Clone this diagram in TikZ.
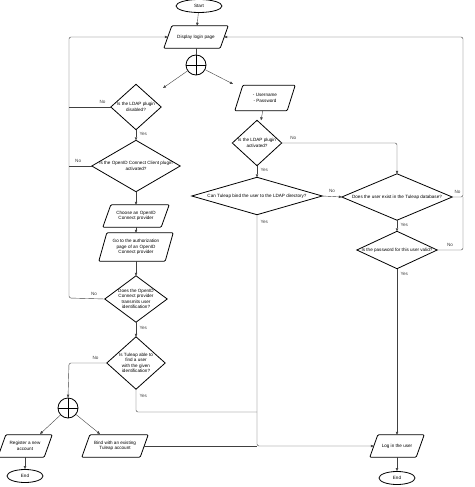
\documentclass[tikz,border=0pt]{standalone}
\usepackage{fontspec}
\setmainfont{Liberation Sans}
\usetikzlibrary{shapes.geometric,arrows.meta}
\newcommand{\mydia}[1]{\draw[thick] (#1.north)--(#1.east)--(#1.south)--(#1.west)--cycle;}
\newcommand{\mypara}[1]{\draw[thick,rounded corners=1pt] ([xshift=4pt]#1.north west)--([xshift=4pt]#1.north east)--([xshift=-4pt]#1.south east)--([xshift=-4pt]#1.south west)--cycle;}
\begin{document}
\begin{tikzpicture}[x=1pt,y=-1pt,
  every node/.style={font=\fontsize{4.6}{5.4}\selectfont},
  box/.style 2 args={rectangle,inner sep=0pt,minimum width=#1,minimum height=#2,align=center},
  term/.style={draw,thick,ellipse,inner sep=0pt,minimum width=#1,minimum height=13pt},
  plus/.style={draw,thick,circle,minimum size=20pt,inner sep=0pt,path picture={\draw (path picture bounding box.north)--(path picture bounding box.south) (path picture bounding box.west)--(path picture bounding box.east);}},
  arr/.style={-{Triangle[length=3pt,width=2.5pt]},gray!50!black},
  ln/.style={gray!50!black,rounded corners=2pt},
  lab/.style={font=\fontsize{4.6}{5.4}\selectfont}]
\useasboundingbox (0,0) rectangle (474,487);
\node[term=46pt] (start) at (199,6) {Start};
\node[box={56pt}{22pt}] (disp) at (196,37) {Display login page};
\node[plus] (p1) at (196,65) {};
\node[box={50pt}{45pt}] (ldapdis) at (136,107) {Is the LDAP plugin\\disabled?};
\node[box={88pt}{51pt}] (oidact) at (136,166) {Is the OpenID Connect Client plugin\\activated?};
\node[box={58pt}{22pt}] (choose) at (136,216) {Choose an OpenID\\Connect provider};
\node[box={66pt}{28pt}] (goto) at (136,247) {Go to the authorization\\page of an OpenID\\Connect provider};
\node[box={62pt}{46pt}] (trans) at (136,299) {Does the OpenID\\Connect provider\\transmits user\\identification?};
\node[box={58pt}{52pt}] (able) at (136,363) {Is Tuleap able to\\find a user\\with the given\\identification?};
\node[plus] (p2) at (68,408) {};
\node[box={46pt}{22pt}] (reg) at (25,446) {Register a new\\account};
\node[term=36pt] (end1) at (25,476) {End};
\node[box={58pt}{22pt}] (bind) at (115,446) {Bind with an existing\\Tuleap account};
\node[box={52pt}{25pt}] (cred) at (265,98) {- Username\\- Password};
\node[box={49pt}{45pt}] (ldapact) at (257,143) {Is the LDAP plugin\\activated?};
\node[box={130pt}{37pt}] (canbind) at (257,196) {Can Tuleap bind the user to the LDAP directory?};
\node[box={110pt}{46pt}] (exist) at (397,197) {Does the user exist in the Tuleap database?};
\node[box={80pt}{37pt}] (pwd) at (397,250) {Is the password for this user valid?};
\node[box={46pt}{22pt}] (login) at (397,446) {Log in the user};
\node[term=36pt] (end2) at (397,478) {End};
\mypara{disp}\mypara{choose}\mypara{goto}\mypara{reg}\mypara{bind}\mypara{cred}\mypara{login}
\mydia{ldapdis}\mydia{oidact}\mydia{trans}\mydia{able}\mydia{ldapact}\mydia{canbind}\mydia{exist}\mydia{pwd}
\coordinate (a1) at (163,88);
\coordinate (a2) at (233,84);
\coordinate (b1) at (40,434);
\coordinate (b2) at (100,434);
\draw[arr] (start) -- (disp);
\draw[ln] (disp) -- (p1);
\draw[arr] (p1) -- (a1);
\draw[arr] (p1) -- (a2);
\draw[arr] (ldapdis) -- node[right,lab,pos=0.4]{Yes} (oidact);
\draw[arr] (oidact) -- (choose);
\draw[arr] (choose) -- (goto);
\draw[arr] (goto) -- (trans);
\draw[arr] (trans) -- node[right,lab,pos=0.4]{Yes} (able);
\draw[ln] (ldapdis.west) -- node[above,lab,pos=0.2]{No} (69,107);
\draw[ln] (oidact.west) -- node[above,lab,pos=0.6]{No} (69,166);
\draw[arr,rounded corners=2pt] (trans.west) -- node[above,lab,pos=0.3]{No} (69,298) -- (69,37) -- (disp.west);
\draw[arr,rounded corners=2pt] (able.west) -- node[above,lab,pos=0.3]{No} (69,363) -- (p2.north);
\draw[ln] (able.south) -- node[right,lab,pos=0.3]{Yes} (136,412) -- (257,412);
\draw[arr] (p2) -- (b1);
\draw[arr] (p2) -- (b2);
\draw[arr] (reg) -- (end1);
\draw[ln] (bind.east) -- (257,446);
\draw[arr] (cred) -- (ldapact);
\draw[arr] (ldapact) -- node[right,lab,pos=0.4]{Yes} (canbind);
\draw[arr,rounded corners=2pt] (ldapact.east) -- node[above,lab,pos=0.1]{No} (397,143) -- (exist.north);
\draw[arr] (canbind.east) -- node[above,lab]{No} (exist.west);
\draw[arr,rounded corners=2pt] (canbind.south) -- node[right,lab,pos=0.03]{Yes} (257,446) -- (login.west);
\draw[arr] (exist) -- node[right,lab,pos=0.45]{Yes} (pwd);
\draw[arr] (pwd) -- node[right,lab,pos=0.03]{Yes} (login);
\draw[arr,rounded corners=2pt] (exist.east) -- node[above,lab,pos=0.5]{No} (463,197) -- (463,37) -- (disp.east);
\draw[ln] (pwd.east) -- node[above,lab,pos=0.5]{No} (463,250) -- (463,197);
\draw[arr] (login) -- (end2);
\end{tikzpicture}
\end{document}
